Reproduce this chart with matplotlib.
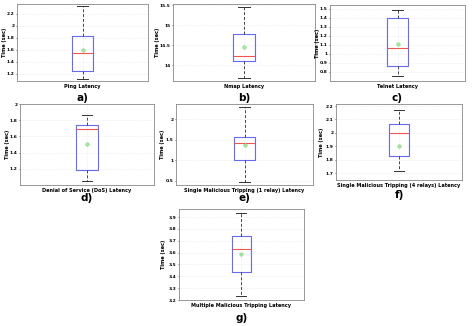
import matplotlib
matplotlib.use("Agg")
import matplotlib.pyplot as plt

# Latency statistics per experiment (seconds)
categories = [
    "Ping Latency",
    "Nmap Latency",
    "Telnet Latency",
    "Denial of Service (DoS) Latency",
    "Single Malicious Tripping (1 relay) Latency",
    "Single Malicious Tripping (4 relays) Latency",
    "Multiple Malicious Tripping Latency",
]
panel_letters = ["a)", "b)", "c)", "d)", "e)", "f)", "g)"]
whisker_low = [1.12, 13.69, 0.75, 1.05, 0.47, 1.72, 3.234]
quartile_1 = [1.24, 14.12, 0.87, 1.18, 0.99, 1.83, 3.434]
medians = [1.54, 14.24, 1.07, 1.69, 1.41, 2.00, 3.634]
quartile_3 = [1.82, 14.78, 1.40, 1.74, 1.57, 2.07, 3.742]
whisker_high = [2.32, 15.45, 1.49, 1.86, 2.29, 2.17, 3.937]
means = [1.60, 14.46, 1.11, 1.51, 1.36, 1.90, 3.59]

y_limits = [(1.08, 2.36), (13.61, 15.53), (0.70, 1.54), (1.0, 2.0),
            (0.39, 2.37), (1.65, 2.215), (3.2, 3.968)]
y_ticks = [
    [1.2, 1.4, 1.6, 1.8, 2.0, 2.2],
    [14, 14.5, 15, 15.5],
    [0.8, 0.9, 1.0, 1.1, 1.2, 1.3, 1.4, 1.5],
    [1.2, 1.4, 1.6, 1.8, 2.0],
    [0.5, 1.0, 1.5, 2.0],
    [1.7, 1.8, 1.9, 2.0, 2.1, 2.2],
    [3.2, 3.3, 3.4, 3.5, 3.6, 3.7, 3.8, 3.9],
]
y_tick_labels = [
    ["1.2", "1.4", "1.6", "1.8", "2", "2.2"],
    ["14", "14.5", "15", "15.5"],
    ["0.8", "0.9", "1", "1.1", "1.2", "1.3", "1.4", "1.5"],
    ["1.2", "1.4", "1.6", "1.8", "2"],
    ["0.5", "1", "1.5", "2"],
    ["1.7", "1.8", "1.9", "2", "2.1", "2.2"],
    ["3.2", "3.3", "3.4", "3.5", "3.6", "3.7", "3.8", "3.9"],
]

W, H = 474, 326
# axes rectangles in pixels: (left, top, right, bottom)
boxes_px = [
    (17, 4, 148, 81),
    (173, 4, 315, 81),
    (330, 5, 465, 81),
    (20, 104, 154, 185),
    (176, 104, 313, 185),
    (336, 104, 462, 180),
    (179, 209, 304, 300),
]
# horizontal centre of each "Time (sec)" label, in pixels
ylabel_x_px = [5, 157, 317, 7, 162.5, 321, 164]
letter_y_px = [98, 98, 98, 198, 198, 195, 318]

fig = plt.figure(figsize=(W / 100, H / 100), dpi=100)
fig.patch.set_facecolor("white")

for i in range(7):
    l, t, r, b = boxes_px[i]
    ax = fig.add_axes([l / W, 1 - b / H, (r - l) / W, (b - t) / H])
    stats = [dict(whislo=whisker_low[i], q1=quartile_1[i], med=medians[i],
                  q3=quartile_3[i], whishi=whisker_high[i], mean=means[i],
                  fliers=[], label=categories[i])]
    ax.bxp(stats, positions=[1], widths=0.16, capwidths=0.08,
           showmeans=True, showfliers=False, patch_artist=False,
           boxprops=dict(color="#6a6af0", linewidth=0.8),
           medianprops=dict(color="#ee5555", linewidth=0.8),
           whiskerprops=dict(color="#444444", linewidth=0.7, linestyle=(0, (3, 2))),
           capprops=dict(color="#333333", linewidth=0.7),
           meanprops=dict(marker="o", markersize=2.5, markerfacecolor="#a8e8a0",
                          markeredgecolor="#7ad07a", markeredgewidth=0.4))
    ax.set_xlim(0.5, 1.5)
    ax.set_ylim(*y_limits[i])
    ax.set_yticks(y_ticks[i])
    ax.set_yticklabels(y_tick_labels[i])
    ax.set_xticks([1])
    ax.set_xticklabels([categories[i]], fontsize=3.6, fontweight="bold")
    ax.tick_params(axis="y", labelsize=3.2, length=1.0, width=0.4, pad=0.8)
    ax.tick_params(axis="x", length=0, pad=2.5)
    for lab in ax.get_yticklabels():
        lab.set_fontweight("bold")
    ax.set_ylabel("Time (sec)", fontsize=3.6, fontweight="bold",
                  va="center", ha="center")
    ax.yaxis.set_label_coords((ylabel_x_px[i] - l) / (r - l), 0.5)
    ax.grid(True, color="#dddddd", linewidth=0.4, linestyle=":")
    ax.set_axisbelow(True)
    for sp in ax.spines.values():
        sp.set_color("#888888")
        sp.set_linewidth(0.6)
    cx = (l + r) / 2 / W
    fig.text(cx, 1 - letter_y_px[i] / H, panel_letters[i], ha="center",
             va="center", fontsize=7.5, fontweight="bold")

fig.savefig("out.png", dpi=100, facecolor="white")
